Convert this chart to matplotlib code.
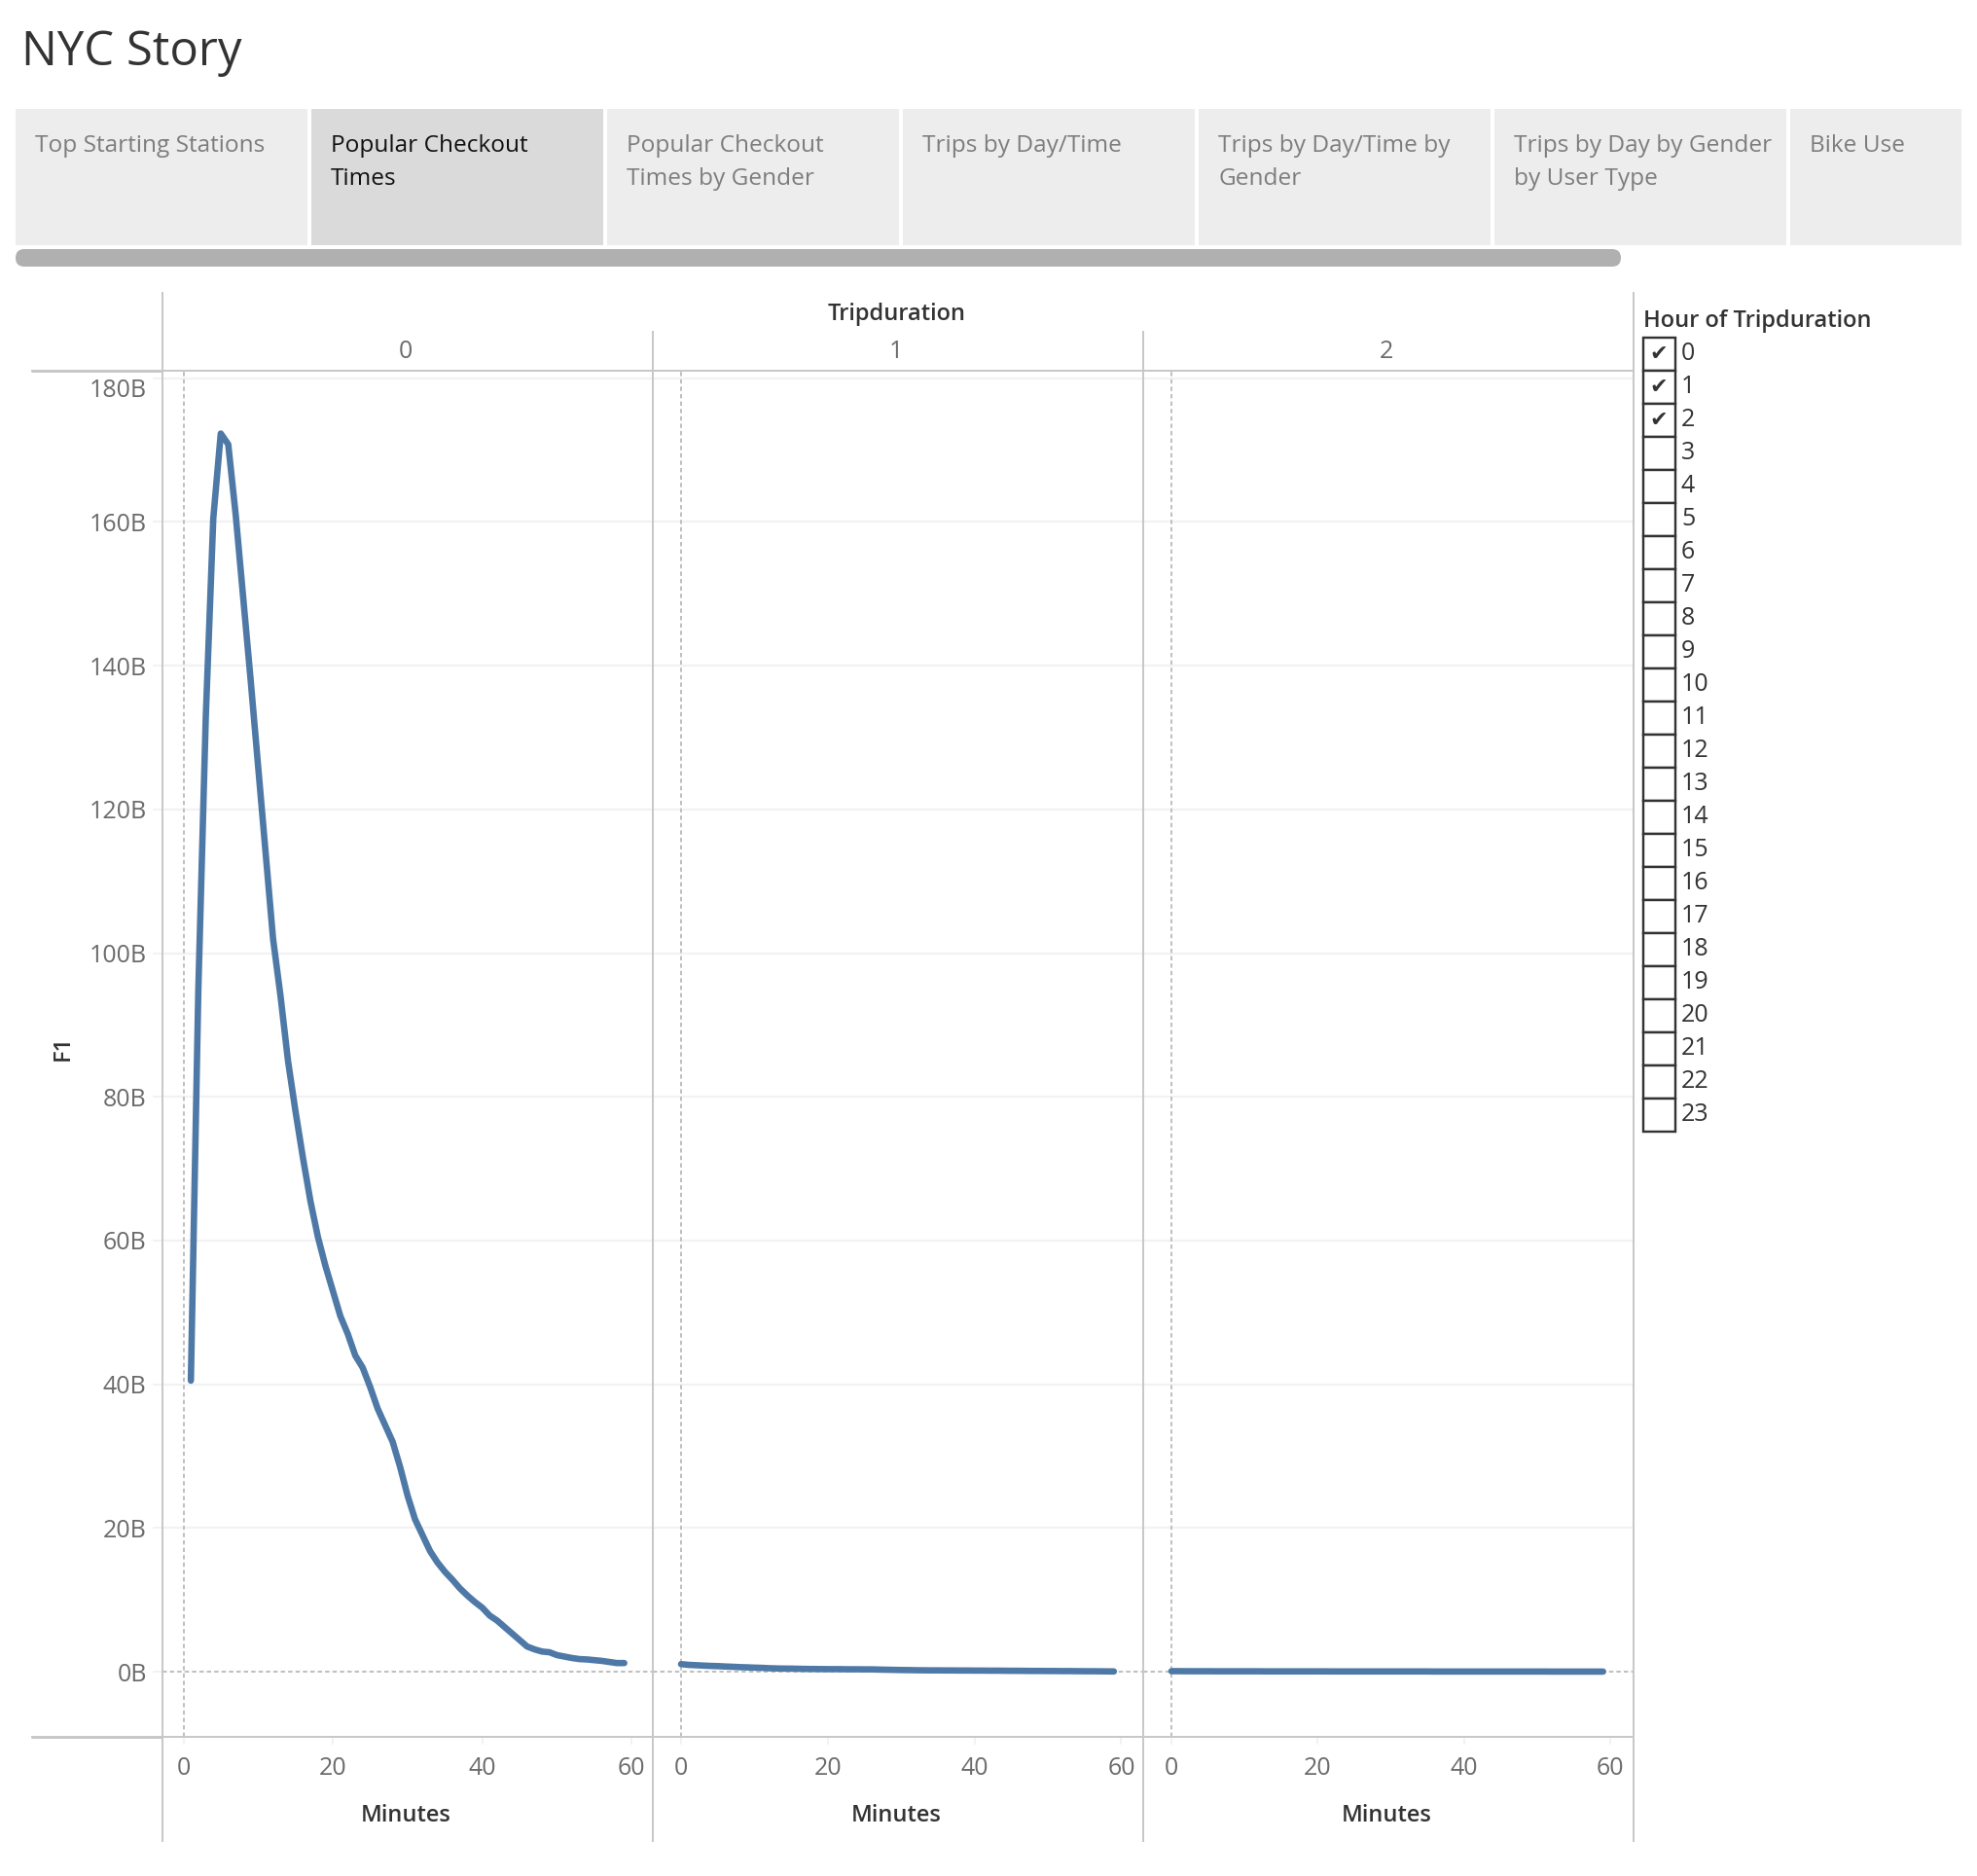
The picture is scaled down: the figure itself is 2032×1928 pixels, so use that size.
import matplotlib
matplotlib.use("Agg")
import matplotlib.pyplot as plt
from matplotlib.patches import Rectangle, FancyBboxPatch

plt.rcParams['font.family'] = ['Open Sans', 'DejaVu Sans']

W, H = 2032, 1928

title = "NYC Story"
tabs = ["Top Starting Stations", "Popular Checkout\nTimes", "Popular Checkout\nTimes by Gender",
        "Trips by Day/Time", "Trips by Day/Time by\nGender", "Trips by Day by Gender\nby User Type", "Bike Use"]
active_tab = 1
panes = ["0", "1", "2"]
checked_hours = [0, 1, 2]
hours = list(range(24))
y_ticks = [0, 20, 40, 60, 80, 100, 120, 140, 160, 180]
x_ticks = [0, 20, 40, 60]

minutes_0 = list(range(1, 60))
f1_0 = [40.5, 95, 133, 160.5, 172.3, 170.8, 161, 149.5, 138, 126, 114, 102, 94, 85, 78, 71.5, 65.5, 60.5, 56.5, 53,
        49.5, 47, 44, 42.3, 39.6, 36.6, 34.3, 32, 28.5, 24.5, 21.2, 19, 16.8, 15.2, 13.9, 12.8, 11.6, 10.6, 9.7, 8.9,
        7.8, 7.1, 6.2, 5.3, 4.4, 3.5, 3.1, 2.8, 2.7, 2.3, 2.1, 1.9, 1.75, 1.7, 1.6, 1.5, 1.35, 1.2, 1.2]
minutes_1 = list(range(0, 60))
f1_1 = [1.05, 0.95, 0.9, 0.85, 0.8, 0.77, 0.72, 0.68, 0.63, 0.6, 0.56, 0.53, 0.48, 0.45, 0.43, 0.42, 0.4, 0.38, 0.37, 0.36,
        0.35, 0.35, 0.34, 0.33, 0.33, 0.32, 0.32, 0.29, 0.27, 0.25, 0.23, 0.22, 0.2, 0.19, 0.18, 0.18, 0.17, 0.17, 0.16, 0.16,
        0.15, 0.15, 0.14, 0.14, 0.13, 0.12, 0.12, 0.11, 0.1, 0.1, 0.09, 0.09, 0.08, 0.08, 0.07, 0.06, 0.06, 0.05, 0.04, 0.03]
minutes_2 = list(range(0, 60))
f1_2 = [0.07, 0.07, 0.06, 0.06, 0.06, 0.06, 0.05, 0.05, 0.05, 0.05, 0.05, 0.05, 0.05, 0.04, 0.04, 0.04, 0.04, 0.04, 0.04, 0.04,
        0.04, 0.04, 0.03, 0.03, 0.03, 0.03, 0.03, 0.03, 0.03, 0.03, 0.03, 0.03, 0.03, 0.03, 0.03, 0.03, 0.02, 0.02, 0.02, 0.02,
        0.02, 0.02, 0.02, 0.02, 0.02, 0.02, 0.02, 0.02, 0.02, 0.02, 0.02, 0.02, 0.01, 0.01, 0.01, 0.01, 0.01, 0.01, 0.01, 0.01]

LINE = "#4e79a7"
GRID = "#f2f2f2"
RULE = "#c8c8c8"
DASH = "#c0c0c0"
GREY = "#6b6b6b"
DARK = "#333333"
FONT_TICK = 18

fig = plt.figure(figsize=(W / 100, H / 100), dpi=100, facecolor="white")


def px_axes(x0, y0, x1, y1, **kw):
    return fig.add_axes([x0 / W, 1 - y1 / H, (x1 - x0) / W, (y1 - y0) / H], **kw)


px = 72 / 100  # points per pixel
Y_TOP, Y_BOT = 381, 1785
Y0, PER_B = 1718, 7.385
ylim = ((Y0 - Y_BOT) / PER_B, (Y0 - Y_TOP) / PER_B)
specs = [(167, 671, 188.5, 7.68, minutes_0, f1_0),
         (671, 1175, 700, 7.54, minutes_1, f1_1),
         (1175, 1679, 1204, 7.52, minutes_2, f1_2)]

for i, (x0, x1, zero, per_min, xs, ys) in enumerate(specs):
    ax = px_axes(x0, Y_TOP, x1, Y_BOT)
    ax.set_xlim((x0 - zero) / per_min, (x1 - zero) / per_min)
    ax.set_ylim(*ylim)
    for s in ax.spines.values():
        s.set_visible(False)
    ax.set_yticks(y_ticks)
    ax.set_xticks(x_ticks)
    ax.set_axisbelow(True)
    ax.grid(axis="y", color=GRID, lw=2.2 * px)
    ax.axhline(0, color="white", lw=2.6 * px, zorder=1)
    ax.axhline(0, color=DASH, lw=2 * px, dashes=(2.2, 1.6), zorder=2)
    ax.axvline(0, color=DASH, lw=2 * px, dashes=(2.2, 1.6), zorder=2)
    ax.plot(xs, ys, color=LINE, lw=6.6 * px, solid_capstyle="round", solid_joinstyle="round", zorder=3)
    ax.tick_params(axis="x", length=8 * px, width=2 * px, color=GRID, labelcolor=GREY,
                   labelsize=FONT_TICK, pad=9)
    if i == 0:
        ax.tick_params(axis="y", length=10 * px, width=2 * px, color=GRID, labelcolor=GREY,
                       labelsize=FONT_TICK, pad=4.5)
        ax.set_yticklabels([f"{v}B" for v in y_ticks])
        ax.get_yticklabels()[-1].set_va("top")
    else:
        ax.tick_params(axis="y", length=0, labelleft=False)

# page furniture, in pixel coordinates, above the panes
ov = fig.add_axes([0, 0, 1, 1], zorder=5)
ov.set_xlim(0, W)
ov.set_ylim(H, 0)
ov.axis("off")

ov.text(22, 54, title, fontsize=35.3, color=DARK, va="center", ha="left")

tab_x = [16, 320, 624, 928, 1232, 1536, 1840]
tab_w = [300, 300, 300, 300, 300, 300, 176]
for i, (tx, tw, label) in enumerate(zip(tab_x, tab_w, tabs)):
    ov.add_patch(Rectangle((tx, 112), tw, 140, fc="#dadada" if i == active_tab else "#ededed", ec="none"))
    for j, part in enumerate(label.split("\n")):
        ov.text(tx + 20, 150 + 34 * j, part, fontsize=17.6, va="center", ha="left",
                color="#111111" if i == active_tab else "#7d7d7d")

ov.add_patch(FancyBboxPatch((16, 256), 1650, 18, boxstyle="round,pad=0,rounding_size=9",
                            fc="#b0b0b0", ec="none"))


def rule(x0, y0, x1, y1, lw=2):
    ov.plot([x0, x1], [y0, y1], color=RULE, lw=lw * px, solid_capstyle="butt")


rule(32, Y_TOP, 1679, Y_TOP)
rule(32, Y_BOT, 1679, Y_BOT)
rule(32, Y_TOP, 167, Y_TOP, 3)
rule(32, Y_BOT, 167, Y_BOT, 3)
rule(167, 300, 167, 1893)
rule(1679, 300, 1679, 1893)
rule(671, 340, 671, 1893)
rule(1175, 340, 1175, 1893)

ov.text(922, 323, "Tripduration", fontsize=17, color=DARK, ha="center", va="center", fontweight="semibold")
for (x0, x1, *_), name in zip(specs, panes):
    cx = (x0 + x1) / 2 - 2
    ov.text(cx, 362, name, fontsize=FONT_TICK, color=GREY, ha="center", va="center")
    ov.text(cx, 1866, "Minutes", fontsize=17, color=DARK, ha="center", va="center", fontweight="semibold")
ov.text(65, 1077, "F1", fontsize=17, color=DARK, rotation=90, ha="center", va="center", fontweight="semibold")

ov.text(1689, 330, "Hour of Tripduration", fontsize=17, color=DARK, ha="left", va="center", fontweight="semibold")
for h in hours:
    top = 347 + 34 * h
    ov.add_patch(Rectangle((1689, top), 33, 34, fc="white", ec=DARK, lw=2.4 * px))
    ov.text(1728, top + 16, str(h), fontsize=FONT_TICK, color=DARK, ha="left", va="center")
    if h in checked_hours:
        ov.text(1705, top + 17, "\u2714", fontsize=16, color=DARK, ha="center", va="center",
                family="DejaVu Sans")

fig.savefig("out.png", dpi=100, facecolor="white")
